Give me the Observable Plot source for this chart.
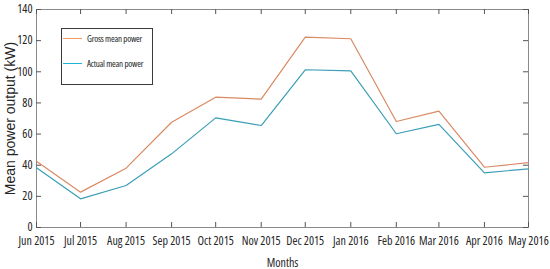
<!DOCTYPE html>
<html><head><meta charset="utf-8">
<script src="https://cdn.jsdelivr.net/npm/d3@7"></script>
<script src="https://cdn.jsdelivr.net/npm/@observablehq/plot@0.6"></script>
<style>
body{margin:0;background:#fff}
#wrap{position:relative;width:550px;height:269px}
#wrap svg text{font-stretch:condensed}
#wrap svg g[aria-label="y-axis label"] text{font-stretch:normal}
#legend{position:absolute;left:61px;top:28px;width:92px;height:57px;border:1px solid #3a3a3a;background:#fff;font-family:"Open Sans",sans-serif;font-stretch:condensed;font-size:9px;letter-spacing:-0.2px;color:#222;box-sizing:border-box}
.item{position:absolute;left:1px;height:12px;display:flex;align-items:center;white-space:nowrap}
.sw{width:19px;height:0;border-top:1.3px solid;margin-right:5px}
</style></head>
<body><div id="wrap"></div>
<script>
const months = ["2015-06-01","2015-07-01","2015-08-01","2015-09-01","2015-10-01","2015-11-01","2015-12-01","2016-01-01","2016-02-01","2016-03-01","2016-04-01","2016-05-01"];
const gross = [42.6, 22.7, 38.1, 67.6, 83.7, 82.4, 122.2, 121.2, 68.1, 74.7, 38.7, 41.7];
const actual = [38.3, 18.4, 27.0, 47.3, 70.4, 65.5, 101.3, 100.6, 60.2, 66.2, 35.1, 37.7];
const yTicks = [0,20,40,60,80,100,120,140];
const seriesNames = ["Gross mean power","Actual mean power"];
const colors = ["#d98a63","#3a9eb6"];
const legendColors = ["#f29a5c","#1fb3d6"];

const dates = months.map(d => new Date(d + "T00:00:00Z"));
const data = dates.map((d,i) => ({date:d, gross:gross[i], actual:actual[i]}));

const W = 550, H = 269, mL = 36, mR = 22, mT = 9, mB = 42;
const pw = W - mL - mR, ph = H - mT - mB, tk = 5;
const narrow = '"Open Sans",sans-serif';

const chart = Plot.plot({
  width: W, height: H,
  marginLeft: mL, marginRight: mR, marginTop: mT, marginBottom: mB,
  style: {background:"#fff", color:"#262626", overflow:"visible"},
  x: {type:"utc", domain:[dates[0], dates[dates.length-1]]},
  y: {domain:[0,140]},
  marks: [
    Plot.frame({stroke:"#8a8a8a", strokeWidth:1}),
    Plot.tickX(dates, {x:d=>d, insetTop: ph - tk, stroke:"#555"}),
    Plot.tickX(dates, {x:d=>d, insetBottom: ph - tk, stroke:"#555"}),
    Plot.tickY(yTicks, {y:d=>d, insetRight: pw - tk, stroke:"#555"}),
    Plot.tickY(yTicks, {y:d=>d, insetLeft: pw - tk, stroke:"#555"}),
    Plot.axisX({ticks: dates, tickFormat: d3.utcFormat("%b %Y"), tickSize:0, tickPadding:9, fontSize:12, fontFamily:narrow, label:null}),
    Plot.axisX({ticks: [], tickSize:0, label:"Months", labelAnchor:"center", labelArrow:"none", labelOffset:39, fontSize:12, fontFamily:narrow}),
    Plot.axisY({ticks: yTicks, tickSize:0, tickPadding:4, fontSize:12, fontFamily:narrow, label:null}),
    Plot.axisY({ticks: [], tickSize:0, label:"Mean power output (kW)", labelAnchor:"center", labelArrow:"none", labelOffset:31, fontSize:14, fontFamily:'"Liberation Sans",Arial,sans-serif'}),
    Plot.lineY(data, {x:"date", y:"gross", stroke:colors[0], strokeWidth:1.2}),
    Plot.lineY(data, {x:"date", y:"actual", stroke:colors[1], strokeWidth:1.2})
  ]
});
const wrap = document.getElementById("wrap");
wrap.appendChild(chart);
const lg = document.createElement("div");
lg.id = "legend";
seriesNames.forEach((n,i) => {
  const it = document.createElement("div");
  it.className = "item";
  it.style.top = (i === 0 ? 3 : 28) + "px";
  const sw = document.createElement("span");
  sw.className = "sw";
  sw.style.borderTopColor = legendColors[i];
  it.appendChild(sw);
  it.appendChild(document.createTextNode(n));
  lg.appendChild(it);
});
wrap.appendChild(lg);
</script></body></html>
